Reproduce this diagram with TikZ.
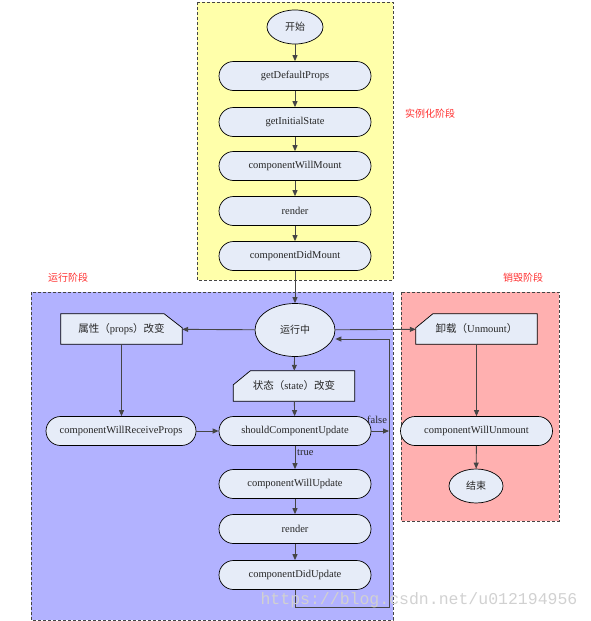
\documentclass[tikz,border=0pt]{standalone}
\usepackage{fontspec}
\setmainfont{Liberation Serif}
\newfontfamily\cjk{Noto Sans CJK SC}
\newfontfamily\wmfont{Liberation Mono}
\usetikzlibrary{arrows.meta,shapes.geometric}
\definecolor{yel}{HTML}{FFFFAA}
\definecolor{blu}{HTML}{B2B2FF}
\definecolor{rd}{HTML}{FFB0B0}
\definecolor{nfill}{HTML}{E6ECF8}
\definecolor{lbl}{HTML}{FF3030}
\definecolor{ln}{HTML}{454545}
\definecolor{txt}{HTML}{262626}
\pgfdeclarelayer{phase}
\pgfdeclarelayer{shapes}
\pgfsetlayers{phase,shapes,main}
\tikzset{
  phasebox/.style={draw=ln, dash pattern=on 3pt off 2pt, line width=0.9pt},
  pill/.style={draw=black, fill=nfill, rounded corners=14.5pt, minimum width=152pt, minimum height=29pt, inner sep=0pt, text=txt, font=\fontsize{10.5}{12}\selectfont, line width=0.7pt},
  oval/.style={draw=black, fill=nfill, ellipse, inner sep=0pt, text=txt, font=\cjk\fontsize{10}{12}\selectfont, line width=0.7pt},
  cutbox/.style={minimum width=121pt, minimum height=30pt, inner sep=0pt, text=txt, font=\fontsize{10.5}{12}\selectfont},
  cutline/.style={draw=black, fill=nfill, line width=0.7pt},
  conn/.style={draw=ln, line width=0.9pt, -{Triangle[length=6pt,width=5pt]}},
  phaselbl/.style={text=lbl, font=\cjk\fontsize{10}{12}\selectfont},
  smalllbl/.style={text=txt, font=\fontsize{10.5}{12}\selectfont, inner sep=0pt}
}
\begin{document}
\begin{tikzpicture}[x=1pt,y=-1pt]
\useasboundingbox (0,0) rectangle (591,621);
% phase boxes
\begin{pgfonlayer}{phase}
\draw[phasebox, fill=yel] (197,2) rectangle (393,280);
\draw[phasebox, fill=blu] (31,292) rectangle (393,620);
\draw[phasebox, fill=rd] (401,292) rectangle (559,521);
\end{pgfonlayer}
% phase labels
\node[phaselbl] (lblinit) at (430,114) {实例化阶段};
\node[phaselbl] (lblrun) at (68,278) {运行阶段};
\node[phaselbl] (lbldes) at (523,278) {销毁阶段};
% instantiation
\node[oval, minimum width=56pt, minimum height=34pt] (start) at (295,27) {开始};
\node[pill] (gdp) at (295,76) {getDefaultProps};
\node[pill] (gis) at (295,122) {getInitialState};
\node[pill] (cwm) at (295,166) {componentWillMount};
\node[pill] (r1) at (295,211) {render};
\node[pill] (cdm) at (295,256) {componentDidMount};
% running
\node[oval, minimum width=80pt, minimum height=53pt] (run) at (295,330) {运行中};
\node[cutbox] (props) at (121.5,329) {\cjk 属性（\rmfamily props\cjk ）改变};
\node[cutbox] (state) at (294,386) {\cjk 状态（\rmfamily state\cjk ）改变};
\node[cutbox] (unm) at (476.5,329) {\cjk 卸载（\rmfamily Unmount\cjk ）};
\begin{pgfonlayer}{shapes}
\draw[cutline] (props.south west) -- (props.north west) -- ([xshift=-18pt]props.north east) -- ([yshift=-14pt]props.north east) -- (props.south east) -- cycle;
\draw[cutline] (state.south west) -- ([yshift=-14pt]state.north west) -- ([xshift=17pt]state.north west) -- (state.north east) -- (state.south east) -- cycle;
\draw[cutline] (unm.south west) -- ([yshift=-14pt]unm.north west) -- ([xshift=17pt]unm.north west) -- (unm.north east) -- (unm.south east) -- cycle;
\end{pgfonlayer}
\node[pill, minimum width=150pt] (cwrp) at (121,431) {componentWillReceiveProps};
\node[pill] (scu) at (295,431) {shouldComponentUpdate};
\node[pill] (cwu) at (295,484) {componentWillUpdate};
\node[pill] (r2) at (295,529) {render};
\node[pill] (cdu) at (295,575) {componentDidUpdate};
\coordinate (loopa) at (295,607);
\coordinate (loopb) at (389,607);
\coordinate (loopc) at (389,339);
\coordinate (falseend) at (389,431);
% destruction
\node[pill] (cwun) at (476.5,431) {componentWillUnmount};
\node[oval, minimum width=54pt, minimum height=34pt] (end) at (476,486) {结束};
% connectors
\draw[conn] (start) -- (gdp);
\draw[conn] (gdp) -- (gis);
\draw[conn] (gis) -- (cwm);
\draw[conn] (cwm) -- (r1);
\draw[conn] (r1) -- (cdm);
\draw[conn] (cdm) -- (run);
\draw[conn] (run) -- (props);
\draw[conn] (run) -- (unm);
\draw[conn] (run) -- (state);
\draw[conn] (props) -- (props|-cwrp.north);
\draw[conn] (cwrp) -- (scu);
\draw[conn] (state) -- (scu);
\draw[conn] (scu) -- (cwu);
\draw[conn] (cwu) -- (r2);
\draw[conn] (r2) -- (cdu);
\draw[conn] (scu) -- (falseend);
\draw[conn] (cdu.south) -- (loopa) -- (loopb) -- (loopc) -- (loopc-|run.east);
\draw[conn] (unm) -- (unm|-cwun.north);
\draw[conn] (cwun) -- (end);
% labels
\node[smalllbl, anchor=west] (ltrue) at (297,453) {true};
\node[smalllbl] (lfalse) at (377,420) {false};
% watermark
\node[text=black!18, font=\wmfont\fontsize{16.5}{18}\selectfont, inner sep=0pt] (wm) at (419,600) {https://blog.csdn.net/u012194956};
\end{tikzpicture}
\end{document}
